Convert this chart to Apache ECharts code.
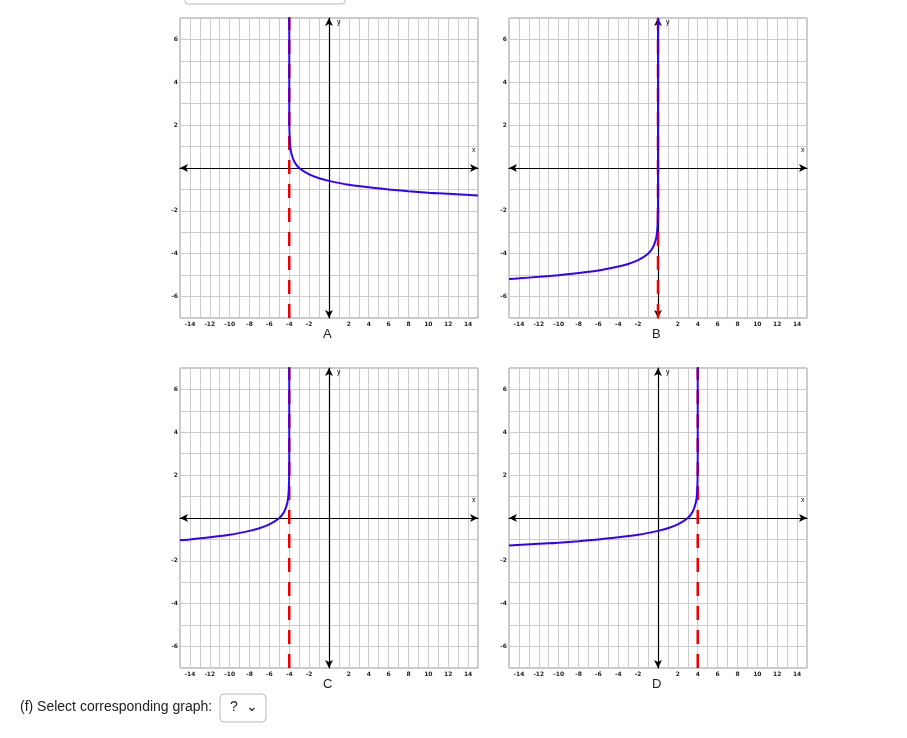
<!DOCTYPE html>
<html><head><meta charset="utf-8">
<script src="https://cdn.jsdelivr.net/npm/echarts@6/dist/echarts.min.js"></script>
<style>body{margin:0;background:#fff}#app{width:907px;height:738px}</style>
</head><body><div id="app"></div>
<script>
// distance from the asymptote and -log10(distance)
const dist = [1e-11, 1e-7, 0.001, 0.01, 0.05, 0.1, 0.2, 0.5, 1, 2, 3, 4, 6, 8, 10, 11, 12, 14, 15, 16, 19];
const logv = [11, 7, 3, 2, 1.3, 1, 0.7, 0.3, 0, -0.3, -0.48, -0.6, -0.78, -0.9, -1, -1.04, -1.08, -1.15, -1.18, -1.2, -1.28];
const panels = ['A', 'B', 'C', 'D'];
const asym = [-4, 0, -4, 4];
const xSign = [1, -1, -1, -1];   // curve to right (+1) or left (-1) of asymptote
const yShift = [0, -4, 0, 0];
const boxes = [[180, 18], [509, 18], [180, 368], [509, 368]];

const chart = echarts.init(document.getElementById('app'));
const grids = [], xAxes = [], yAxes = [], series = [], graphic = [];
const lab = {fontSize: 6, color: '#222', fontWeight: 'bold', fontFamily: 'DejaVu Sans'};
panels.forEach((p, i) => {
  const [l, t] = boxes[i];
  grids.push({left: l, top: t, width: 298, height: 300, show: true, borderColor: '#999', borderWidth: 1});
  xAxes.push({type: 'value', gridIndex: i, min: -15, max: 15, interval: 1,
    axisLine: {onZero: true, lineStyle: {color: '#000', width: 1.2}, symbol: ['arrow', 'arrow'], symbolSize: [6, 8]},
    axisTick: {show: false}, splitLine: {lineStyle: {color: '#ccc'}},
    axisLabel: Object.assign({margin: 3, formatter: v => (v % 2 === 0 && v !== 0) ? v : ''}, lab),
    name: 'x', nameGap: -6, nameTextStyle: {fontSize: 7, verticalAlign: 'bottom', padding: [0, 0, 14, 0]}});
  yAxes.push({type: 'value', gridIndex: i, min: -7, max: 7, interval: 1,
    axisLine: {onZero: true, lineStyle: {color: '#000', width: 1.2}, symbol: ['arrow', 'arrow'], symbolSize: [6, 8]},
    axisTick: {show: false}, splitLine: {lineStyle: {color: '#ccc'}},
    axisLabel: Object.assign({margin: 2, formatter: v => (v % 2 === 0 && v !== 0) ? v : ''}, lab),
    name: 'y', nameGap: -8, nameTextStyle: {fontSize: 7, align: 'left', padding: [0, 0, 0, 8]}});
  const pts = dist.map((d, k) => [asym[i] + xSign[i] * d, logv[k] + yShift[i]])
    .filter(q => q[0] >= -15 && q[0] <= 15)
    .sort((a, b) => a[0] - b[0]);
  series.push({type: 'line', xAxisIndex: i, yAxisIndex: i, data: [[asym[i], -7], [asym[i], 7]],
    symbol: 'none', lineStyle: {color: '#e00', width: 2.5, type: [14, 10]}, z: 3});
  series.push({type: 'line', xAxisIndex: i, yAxisIndex: i, data: pts, smooth: 0.3,
    symbol: 'none', lineStyle: {color: '#3300ff', width: 2}, z: 4});
  graphic.push({type: 'text', left: l + 143, top: t + 310, style: {text: p, fontSize: 13, fill: '#222', fontFamily: 'Arial'}});
});
graphic.push({type: 'rect', shape: {x: 185, y: -6, width: 160, height: 10, r: 3}, style: {fill: '#fff', stroke: '#bbb'}});
graphic.push({type: 'text', left: 20, top: 700, style: {text: '(f) Select corresponding graph:', fontSize: 14, fill: '#222', fontFamily: 'Arial'}});
graphic.push({type: 'rect', shape: {x: 220, y: 694, width: 46, height: 28, r: 4}, style: {fill: '#fff', stroke: '#bbb'}});
graphic.push({type: 'text', left: 230, top: 700, style: {text: '?  ⌄', fontSize: 14, fill: '#222', fontFamily: 'Arial'}});

chart.setOption({animation: false, grid: grids, xAxis: xAxes, yAxis: yAxes, series, graphic});
</script></body></html>
